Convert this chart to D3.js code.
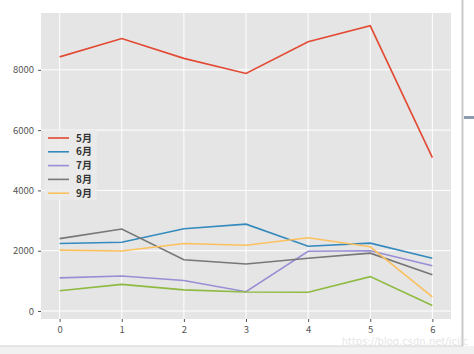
<!DOCTYPE html>
<html>
<head>
<meta charset="utf-8">
<script src="https://cdn.jsdelivr.net/npm/d3@7"></script>
<style>
  body { margin: 0; background: #fff; }
  svg { display: block; }
</style>
</head>
<body>
<svg id="chart"></svg>
<script>
// x positions (index) and month series
const xValues = [0, 1, 2, 3, 4, 5, 6];
const months = ['5月', '6月', '7月', '8月', '9月', ''];
const may = [8430, 9040, 8380, 7880, 8930, 9460, 5090];
const june = [2240, 2280, 2730, 2880, 2150, 2250, 1750];
const july = [1100, 1160, 1010, 640, 1980, 2000, 1500];
const august = [2400, 2720, 1700, 1560, 1750, 1920, 1200];
const september = [2020, 1990, 2240, 2180, 2430, 2130, 470];
const extra = [670, 885, 700, 630, 620, 1140, 180];
const yTicks = [0, 2000, 4000, 6000, 8000];

const seriesList = [may, june, july, august, september, extra];
const colors = ['#E24A33', '#348ABD', '#988ED5', '#777777', '#FBC15E', '#8EBA42'];

const W = 474, H = 354;
const margin = { top: 13, right: 23, bottom: 35, left: 41 };
const width = W - margin.left - margin.right;
const height = H - margin.top - margin.bottom;

const svg = d3.select('#chart').attr('width', W).attr('height', H);

// screenshot frame bits
svg.append('rect').attr('x', 0).attr('y', 346).attr('width', W).attr('height', 8).attr('fill', '#f1f1f1');
svg.append('line').attr('x1', 0).attr('x2', 463).attr('y1', 346).attr('y2', 346).attr('stroke', '#d4d4d4');
svg.append('line').attr('x1', 462.5).attr('x2', 462.5).attr('y1', 0).attr('y2', 346).attr('stroke', '#c9c9c9').attr('stroke-width', 2);
svg.append('rect').attr('x', 464).attr('y', 116).attr('width', 10).attr('height', 3).attr('fill', '#8d9bb0');

const g = svg.append('g').attr('transform', `translate(${margin.left},${margin.top})`);

const xScale = d3.scaleLinear().domain([-0.3, 6.3]).range([0, width]);
const yScale = d3.scaleLinear().domain([-265, 9885]).range([height, 0]);

g.append('rect').attr('width', width).attr('height', height).attr('fill', '#E5E5E5');

// grid
g.append('g').selectAll('line').data(xValues).join('line')
  .attr('x1', d => xScale(d)).attr('x2', d => xScale(d))
  .attr('y1', 0).attr('y2', height)
  .attr('stroke', '#fff').attr('stroke-width', 1);
g.append('g').selectAll('line').data(yTicks).join('line')
  .attr('x1', 0).attr('x2', width)
  .attr('y1', d => yScale(d)).attr('y2', d => yScale(d))
  .attr('stroke', '#fff').attr('stroke-width', 1);

// axes
const xAxis = d3.axisBottom(xScale).tickValues(xValues).tickSize(3).tickPadding(4).tickFormat(d3.format('d'));
const yAxis = d3.axisLeft(yScale).tickValues(yTicks).tickSize(3).tickPadding(4).tickFormat(d3.format('d'));

const xAxisG = g.append('g').attr('transform', `translate(0,${height})`).call(xAxis);
const yAxisG = g.append('g').call(yAxis);
[xAxisG, yAxisG].forEach(a => {
  a.select('.domain').remove();
  a.selectAll('line').attr('stroke', '#555');
  a.selectAll('text').attr('fill', '#555')
    .style('font-family', '"Noto Sans CJK SC", sans-serif').style('font-size', '9.5px');
});

// lines
const line = d3.line().x((d, i) => xScale(xValues[i])).y(d => yScale(d));
g.append('g').selectAll('path').data(seriesList).join('path')
  .attr('d', d => line(d))
  .attr('fill', 'none')
  .attr('stroke', (d, i) => colors[i])
  .attr('stroke-width', 1.6);

// legend
const legend = g.append('g').attr('transform', 'translate(3,117)');
legend.append('rect').attr('width', 53).attr('height', 70).attr('rx', 2)
  .attr('fill', '#EBEBEB').attr('fill-opacity', 0.85);
const entries = legend.selectAll('g.entry').data(months.slice(0, 5)).join('g')
  .attr('class', 'entry')
  .attr('transform', (d, i) => `translate(0,${8 + i * 13.8})`);
entries.append('line').attr('x1', 4).attr('x2', 25).attr('y1', 0).attr('y2', 0)
  .attr('stroke', (d, i) => colors[i]).attr('stroke-width', 1.6);
entries.append('text').attr('x', 32).attr('y', 0).attr('dy', '0.35em')
  .text(d => d)
  .attr('fill', '#333')
  .style('font-family', '"Noto Sans CJK SC", sans-serif')
  .style('font-size', '10px').style('font-weight', 'bold');

// watermark
svg.append('text').attr('x', 468).attr('y', 345).attr('text-anchor', 'end')
  .text('https://blog.csdn.net/jcjic')
  .attr('fill', '#e6e6e6')
  .style('font-family', '"DejaVu Sans", sans-serif').style('font-size', '10px');
</script>
</body>
</html>
